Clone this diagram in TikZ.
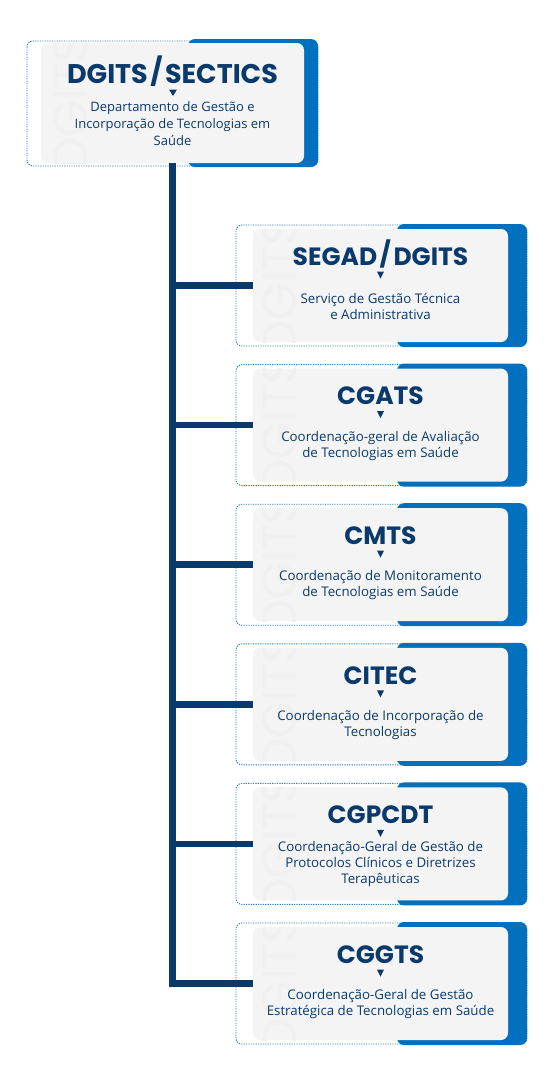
\documentclass[tikz,border=0pt]{standalone}
\usepackage{fontspec}
\setmainfont{Open Sans}
\newfontfamily\titlefont{Poppins}
\usetikzlibrary{positioning}
\definecolor{navy}{HTML}{0A3A6B}
\definecolor{deptblue}{HTML}{0070BF}
\definecolor{cardgray}{HTML}{F4F4F4}
\definecolor{dotblue}{HTML}{2A7CC4}
\newcommand{\unitsep}{\kern2.5pt\raisebox{2pt}[0pt][0pt]{/}\kern2.5pt}
\tikzset{every picture/.style={line width=0.75pt}}

\begin{document}
\begin{tikzpicture}[x=1pt,y=-1pt,
        card/.style={fill=cardgray, rounded corners=7pt, minimum width=255pt, minimum height=113pt, inner sep=0pt},
        frame/.style={draw=dotblue, dash pattern=on 1.2pt off 1.2pt, line width=0.9pt, rounded corners=6pt},
        backing/.style={fill=deptblue, rounded corners=7pt},
        watermark/.style={rotate=90, text=black!6, font=\titlefont\fontsize{48}{48}\selectfont},
        title/.style={text=navy, font=\titlefont\bfseries\fontsize{25}{25}\selectfont},
        subtitle/.style={text=navy, align=center, font=\fontsize{13.3}{16}\selectfont},
        link/.style={draw=navy, line width=6.5pt}]
    \useasboundingbox (0,0) rectangle (553,1080);
    % head of the department
    \draw[frame] (27,41) rectangle (318,166);
    \fill[backing] (188,39) rectangle (318,167);
    \node[card, minimum width=263pt, minimum height=120pt] (dgits) at (172.5,103) {};
    \begin{scope}
        \clip[rounded corners=7pt] (dgits.south west) rectangle (dgits.north east);
        \node[watermark] at ([xshift=30pt]dgits.west) {DGITS};
    \end{scope}
    \node[title, font=\titlefont\bfseries\fontsize{27}{27}\selectfont] (dgits-title) at (172.5,74) {DGITS\unitsep SECTICS};
    \fill[navy] (169,89.5) -- (177,89.5) -- (173,96) -- cycle;
    \node[subtitle, font=\fontsize{13}{17}\selectfont] (dgits-sub) at (172.5,124) {Departamento de Gestão e\\Incorporação de Tecnologias em\\Saúde};
    % the six units
    \foreach \id/\ttl/\sub [count=\i from 0] in {
            segad/{SEGAD\unitsep DGITS}/{Serviço de Gestão Técnica\\e Administrativa},
            cgats/{CGATS}/{Coordenação-geral de Avaliação\\de Tecnologias em Saúde},
            cmts/{CMTS}/{Coordenação de Monitoramento\\de Tecnologias em Saúde},
            citec/{CITEC}/{Coordenação de Incorporação de\\Tecnologias},
            cgpcdt/{CGPCDT}/{Coordenação-Geral de Gestão de\\Protocolos Clínicos e Diretrizes\\Terapêuticas},
            cggts/{CGGTS}/{Coordenação-Geral de Gestão\\Estratégica de Tecnologias em Saúde}}{
        \pgfmathsetmacro\cy{285.5+139.6*\i}
        \draw[frame] (236,\cy-60.5) rectangle (527,\cy+60.5);
        \fill[backing] (397,\cy-61.5) rectangle (527,\cy+61.5);
        \node[card] (\id) at (380.5,\cy) {};
        \begin{scope}
            \clip[rounded corners=7pt] (\id.south west) rectangle (\id.north east);
            \node[watermark] at ([xshift=27pt]\id.west) {DGITS};
        \end{scope}
        \node[title] (\id-title) at (380.5,\cy-29) {\ttl};
        \fill[navy] (377,\cy-14) -- (384,\cy-14) -- (380.5,\cy-7) -- cycle;
        \node[subtitle] (\id-sub) at (380.5,\cy+20.5) {\sub};
    }
    % connectors
    \draw[link] (dgits.south) |- (cggts.west);
    \foreach \id in {segad,cgats,cmts,citec,cgpcdt}
        \draw[link] (dgits.south |- \id.west) -- (\id.west);
\end{tikzpicture}
\end{document}
